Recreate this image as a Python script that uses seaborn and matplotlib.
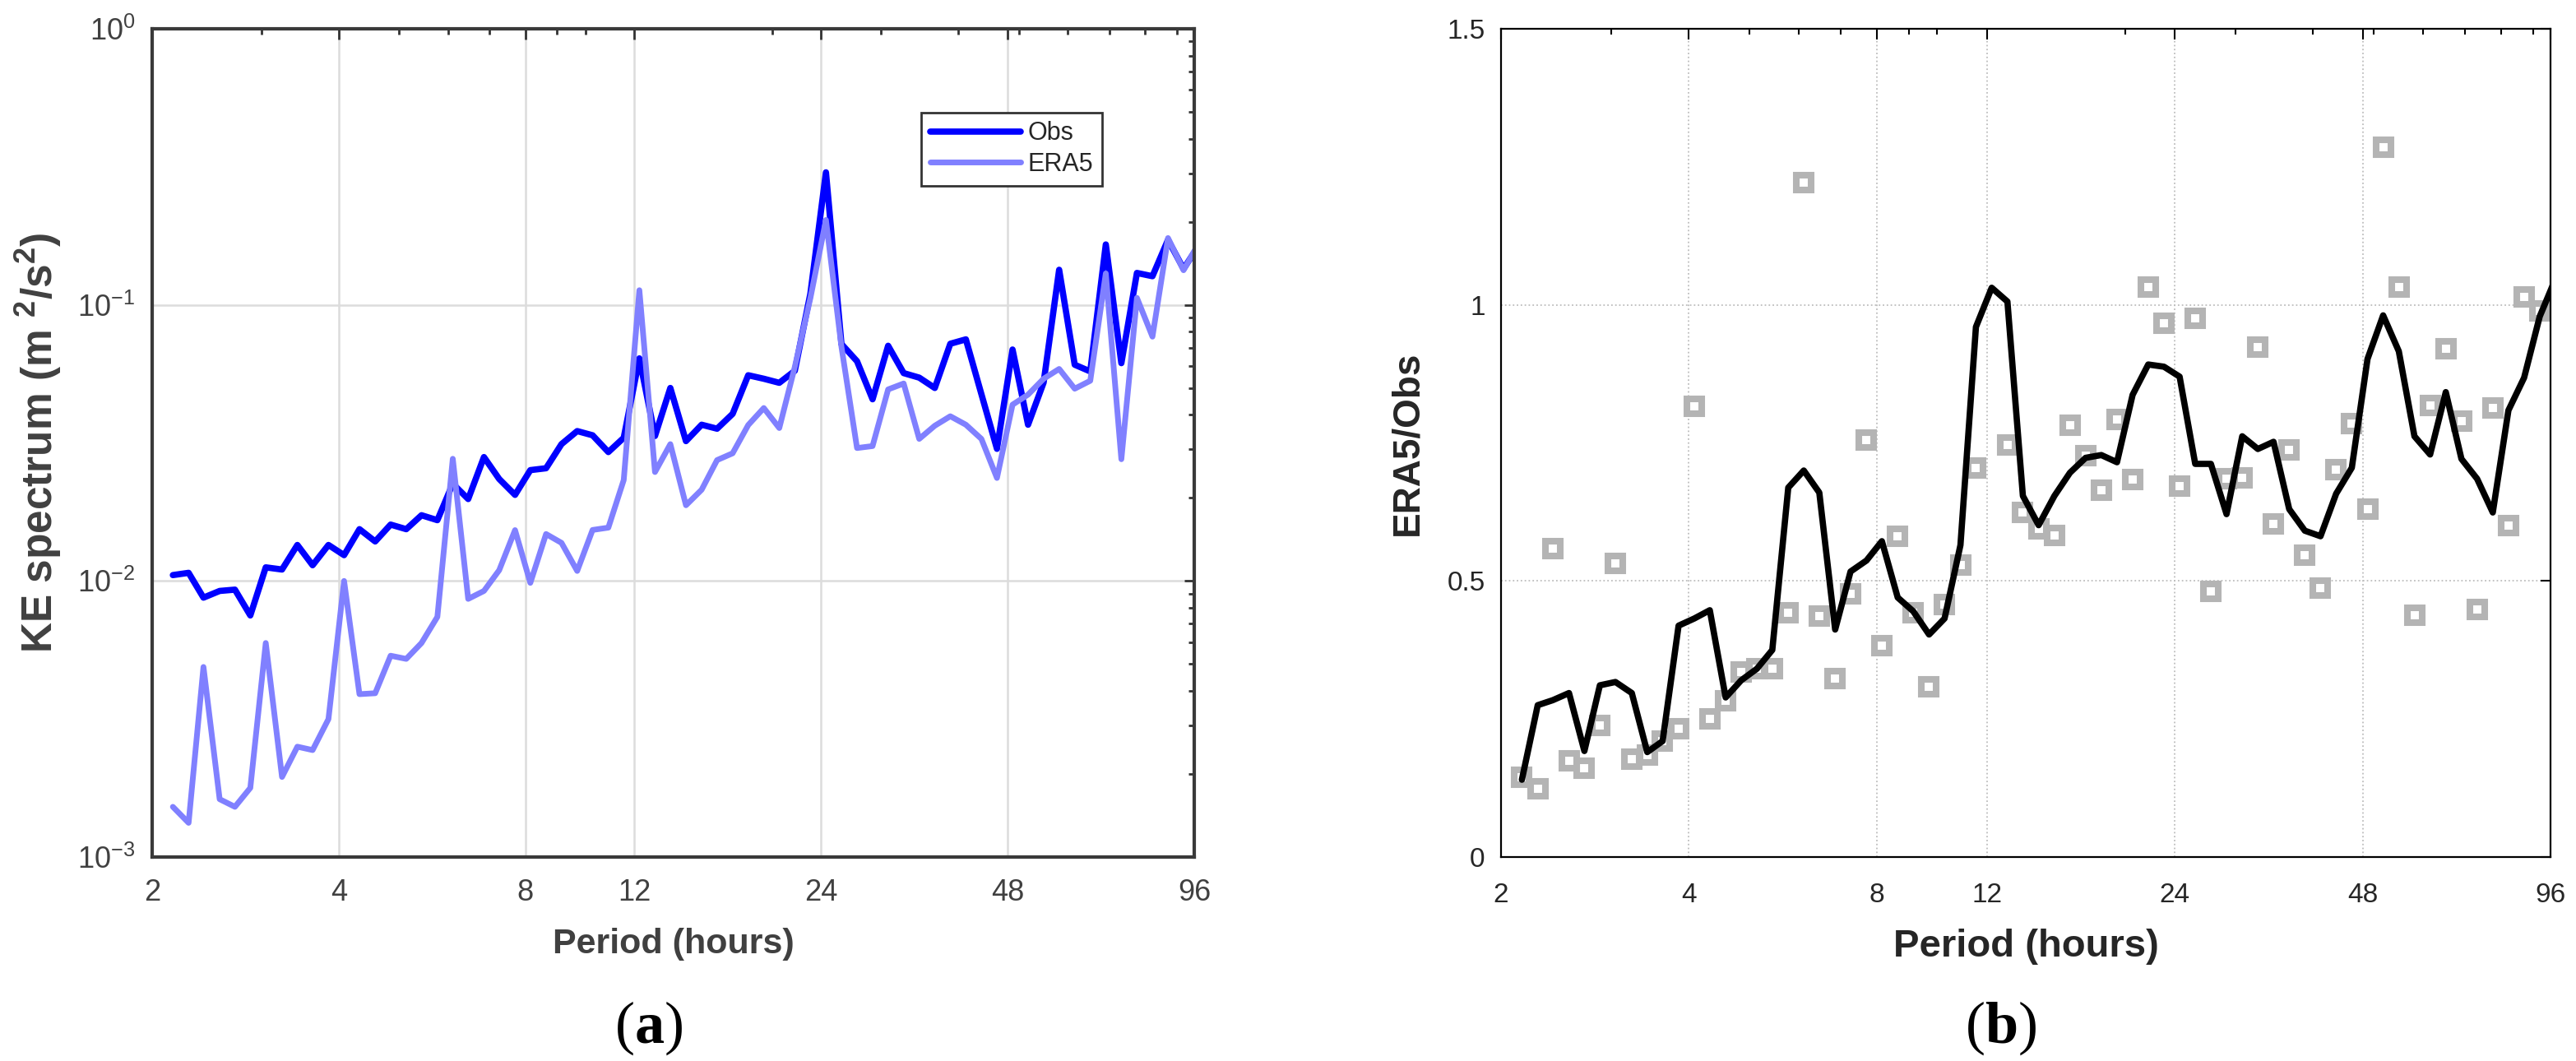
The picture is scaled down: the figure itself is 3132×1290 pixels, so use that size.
import numpy as np
import pandas as pd
import matplotlib
matplotlib.use('Agg')
import matplotlib.pyplot as plt
import matplotlib.ticker as mticker
import seaborn as sns

# period of each spectral point (hours)
periods = [2.16, 2.29, 2.42, 2.57, 2.72, 2.88, 3.05, 3.24, 3.43, 3.63,
           3.85, 4.08, 4.32, 4.58, 4.85, 5.14, 5.44, 5.77, 6.11, 6.47,
           6.86, 7.26, 7.70, 8.15, 8.64, 9.15, 9.70, 10.27, 10.89, 11.53,
           12.22, 12.95, 13.71, 14.53, 15.40, 16.31, 17.28, 18.31, 19.40, 20.55,
           21.77, 23.07, 24.44, 25.89, 27.43, 29.06, 30.79, 32.62, 34.56, 36.62,
           38.79, 41.10, 43.54, 46.13, 48.88, 51.78, 54.86, 58.12, 61.58, 65.24,
           69.12, 73.23, 77.59, 82.20, 87.09, 92.26, 97.75]

# KE spectrum, observations (m2/s2)
ke_obs = [0.0105, 0.0107, 0.0087, 0.0092, 0.0093, 0.0075, 0.0112, 0.0110, 0.0135, 0.0114,
          0.0135, 0.0124, 0.0154, 0.0139, 0.0160, 0.0154, 0.0173, 0.0166, 0.0225, 0.0198,
          0.0281, 0.0234, 0.0205, 0.0252, 0.0256, 0.0313, 0.0349, 0.0337, 0.0293, 0.0330,
          0.0640, 0.0335, 0.0500, 0.0321, 0.0368, 0.0356, 0.0403, 0.0556, 0.0540, 0.0522,
          0.0577, 0.110, 0.302, 0.0721, 0.0625, 0.0455, 0.0711, 0.0566, 0.0545, 0.0500,
          0.0723, 0.0750, 0.0475, 0.0301, 0.0689, 0.0368, 0.0523, 0.134, 0.0607, 0.0574,
          0.1655, 0.0615, 0.1305, 0.127, 0.172, 0.135, 0.165]

# KE spectrum, ERA5 (m2/s2)
ke_era5 = [0.00152, 0.00133, 0.00488, 0.00162, 0.00152, 0.00178, 0.00596, 0.00195, 0.00251, 0.00244,
           0.00316, 0.0100, 0.00389, 0.00392, 0.00536, 0.00522, 0.00596, 0.00741, 0.0277, 0.00861,
           0.0092, 0.01094, 0.01528, 0.00984, 0.01479, 0.01374, 0.01087, 0.0153, 0.0156, 0.0232,
           0.113, 0.0248, 0.0313, 0.0188, 0.0214, 0.0274, 0.0290, 0.0367, 0.0423, 0.0358,
           0.0596, 0.106, 0.203, 0.0704, 0.0303, 0.0308, 0.0494, 0.0519, 0.0327, 0.0365,
           0.0395, 0.0368, 0.0327, 0.0236, 0.0435, 0.0473, 0.0540, 0.0586, 0.0497, 0.0531,
           0.130, 0.0276, 0.106, 0.0767, 0.1746, 0.1335, 0.168]

# ERA5/Obs per point (grey squares)
ratio_pts = [0.145, 0.123, 0.559, 0.174, 0.161, 0.239, 0.532, 0.177, 0.185, 0.210,
             0.232, 0.816, 0.250, 0.283, 0.335, 0.341, 0.341, 0.443, 1.222, 0.436,
             0.323, 0.476, 0.755, 0.383, 0.581, 0.443, 0.308, 0.457, 0.529, 0.705,
             1.76, 0.746, 0.624, 0.594, 0.582, 0.782, 0.727, 0.664, 0.793, 0.683,
             1.033, 0.967, 0.672, 0.976, 0.481, 0.685, 0.686, 0.923, 0.604, 0.737,
             0.547, 0.487, 0.701, 0.785, 0.630, 1.285, 1.032, 0.438, 0.818, 0.921,
             0.789, 0.449, 0.814, 0.601, 1.015, 0.989]

# ERA5/Obs black line
ratio_line = [0.140, 0.275, 0.284, 0.297, 0.192, 0.311, 0.317, 0.297, 0.190, 0.210,
              0.419, 0.432, 0.447, 0.289, 0.320, 0.341, 0.375, 0.669, 0.700, 0.660,
              0.412, 0.517, 0.537, 0.572, 0.470, 0.445, 0.403, 0.432, 0.565, 0.960,
              1.031, 1.006, 0.654, 0.601, 0.654, 0.696, 0.723, 0.728, 0.715, 0.837,
              0.892, 0.888, 0.870, 0.712, 0.712, 0.621, 0.762, 0.739, 0.752, 0.630,
              0.591, 0.581, 0.658, 0.705, 0.902, 0.981, 0.916, 0.762, 0.729, 0.842,
              0.721, 0.685, 0.624, 0.809, 0.868, 0.979, 1.047]

major_ticks = [2, 4, 8, 12, 24, 48, 96]
minor_ticks = [3, 5, 6, 7, 9, 10, 20, 30, 40, 50, 60, 70, 80, 90]

sns.set_style('white')
plt.rcParams['font.family'] = ['Liberation Sans', 'DejaVu Sans']
plt.rcParams['mathtext.fontset'] = 'custom'
plt.rcParams['mathtext.rm'] = 'Liberation Sans'
plt.rcParams['mathtext.sf'] = 'Liberation Sans:bold'
plt.rcParams['mathtext.bf'] = 'Liberation Serif:bold'

df = pd.DataFrame({'Period': periods, 'Obs': ke_obs, 'ERA5': ke_era5, 'Ratio': ratio_line})
df_pts = pd.DataFrame({'Period': periods[:len(ratio_pts)], 'Ratio': ratio_pts})

W, H = 3132, 1290
fig = plt.figure(figsize=(W / 100, H / 100), dpi=100)
ax1 = fig.add_axes([185 / W, 1 - 1042 / H, (1452 - 185) / W, (1042 - 35) / H])
ax2 = fig.add_axes([1825 / W, 1 - 1042 / H, (3101 - 1825) / W, (1042 - 35) / H])

for ax in (ax1, ax2):
    ax.set_xscale('log')
ax1.set_yscale('log')

# ---- (a) KE spectra ----
sns.lineplot(data=df, x='Period', y='Obs', ax=ax1, color='#0000ff', lw=5.5,
             label='Obs', estimator=None)
sns.lineplot(data=df, x='Period', y='ERA5', ax=ax1, color='#8080ff', lw=5,
             label='ERA5', estimator=None)
ax1.set_xlim(2, 96)
ax1.set_ylim(1e-3, 1)
ax1.yaxis.set_major_locator(mticker.LogLocator(base=10))
ax1.yaxis.set_minor_locator(mticker.LogLocator(base=10, subs=np.arange(2, 10)))
ax1.yaxis.set_minor_formatter(mticker.NullFormatter())

# ---- (b) ratio ----
sns.lineplot(data=df_pts, x='Period', y='Ratio', ax=ax2, marker='s', linestyle='',
             markersize=13, markerfacecolor='none', markeredgecolor='#b4b4b4',
             markeredgewidth=5.8, estimator=None)
sns.lineplot(data=df, x='Period', y='Ratio', ax=ax2, color='black', lw=5.5, estimator=None)
ax2.set_xlim(2, 96)
ax2.set_ylim(0, 1.5)
ax2.set_yticks([0, 0.5, 1, 1.5])
ax2.set_yticklabels(['0', '0.5', '1', '1.5'])

for ax in (ax1, ax2):
    ax.xaxis.set_major_locator(mticker.FixedLocator(major_ticks))
    ax.xaxis.set_major_formatter(mticker.FixedFormatter([str(t) for t in major_ticks]))
    ax.xaxis.set_minor_locator(mticker.FixedLocator(minor_ticks))
    ax.xaxis.set_minor_formatter(mticker.NullFormatter())
    ax.set_axisbelow(True)

# styling (a)
ax1.grid(True, which='major', color='#dcdcdc', lw=1.8)
ax1.tick_params(which='both', direction='in', top=True, right=True,
                color='#333333', labelcolor='#404040', width=2)
ax1.tick_params(which='major', length=9, labelsize=26)
ax1.tick_params(which='minor', length=5)
ax1.tick_params(axis='x', which='major', pad=19)
ax1.tick_params(axis='y', which='major', pad=15)
for s in ax1.spines.values():
    s.set_color('#3a3a3a')
    s.set_linewidth(3)
ax1.set_xlabel('Period (hours)', fontsize=31, fontweight='bold', color='#404040')
ax1.xaxis.set_label_coords(0.5, -0.0854)
ax1.set_ylabel(r'KE spectrum (m $^{\mathsf{2}}$/s$^{\mathsf{2}}$)', fontsize=37,
               fontweight='bold', color='#404040')
ax1.yaxis.set_label_coords(-0.0852, 0.5)

leg = ax1.legend(loc='upper left', bbox_to_anchor=(0.738, 0.899), fontsize=22,
                 frameon=True, fancybox=False, edgecolor='#333333', framealpha=1,
                 borderpad=0.35, labelspacing=0.25, handletextpad=0.3,
                 handlelength=3.6, borderaxespad=0)
leg.get_frame().set_linewidth(2)

# styling (b)
ax2.grid(True, which='major', color='#bdbdbd', ls=':', lw=1.3)
ax2.tick_params(which='both', direction='in', top=True, right=True,
                color='black', labelcolor='#262626', width=1.5)
ax2.tick_params(which='major', length=9, labelsize=24)
ax2.tick_params(which='minor', length=5)
ax2.tick_params(axis='x', which='major', pad=22)
ax2.tick_params(axis='y', which='major', pad=14)
for s in ax2.spines.values():
    s.set_color('black')
    s.set_linewidth(1.6)
ax2.set_xlabel('Period (hours)', fontsize=34, fontweight='bold', color='#262626')
ax2.xaxis.set_label_coords(0.5, -0.0864)
ax2.set_ylabel('ERA5/Obs', fontsize=33, fontweight='bold', color='#262626')
ax2.yaxis.set_label_coords(-0.072, 0.5)

# panel letters
fig.text(789 / W, 1 - 1250 / H, r'($\mathbf{a}$)', family='Liberation Serif',
         fontsize=52, ha='center', va='center', color='black')
fig.text(2433 / W, 1 - 1250 / H, r'($\mathbf{b}$)', family='Liberation Serif',
         fontsize=52, ha='center', va='center', color='black')

fig.savefig('out.png', dpi=100)
